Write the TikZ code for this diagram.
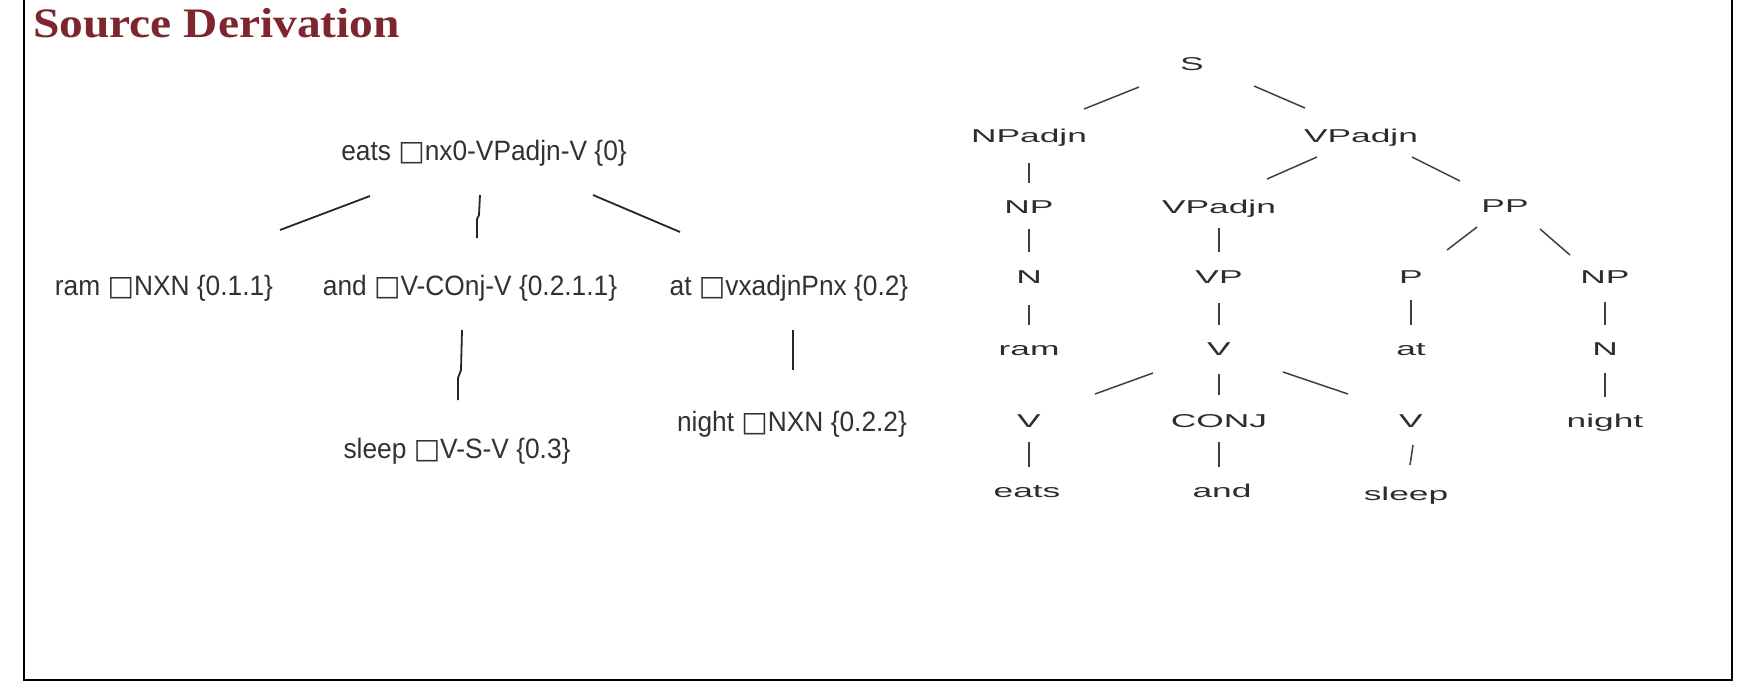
\documentclass[tikz,border=0pt]{standalone}
\usepackage{fontspec}
\setmainfont{Liberation Sans}
\newfontfamily\titlefont[FakeStretch=1.13]{Liberation Serif}
\newfontfamily\leftfont[FakeStretch=0.94]{Liberation Sans}
\newfontfamily\rightfont[FakeStretch=1.9]{Liberation Sans}
\newfontfamily\boxfont{DejaVu Sans}
\usetikzlibrary{calc}
\definecolor{titlered}{RGB}{125,38,45}
\definecolor{ltext}{RGB}{50,50,50}
\definecolor{rtext}{RGB}{45,45,45}
\newcommand{\bx}{{\boxfont\char"25A1}}
\begin{document}
\begin{tikzpicture}[x=1pt,y=-1pt,
  lnode/.style={inner sep=0pt, anchor=base, text=ltext, font=\leftfont\fontsize{28pt}{28pt}\selectfont},
  rnode/.style={inner sep=0pt, anchor=base, text=rtext, font=\rightfont\fontsize{18.6pt}{18.6pt}\selectfont},
  ledge/.style={draw=black!85, line width=1.8pt},
  redge/.style={draw=black!75, line width=1.5pt},
  frame/.style={draw=black, line width=2.2pt}]
\useasboundingbox (0,0) rectangle (1747,697);
\fill[white] (0,0) rectangle (1747,697);
\draw[frame] (24,0) -- (24,680) -- (1732,680) -- (1732,0);
\node[inner sep=0pt, anchor=base west, text=titlered, font=\titlefont\bfseries\fontsize{42pt}{42pt}\selectfont] (title) at (33,37) {Source Derivation};
% left derivation tree
\node[lnode] (eats) at (484,160) {eats \bx nx0-VPadjn-V \{0\}};
\node[lnode] (ram) at (164,295) {ram \bx NXN \{0.1.1\}};
\node[lnode] (and) at (470,295) {and \bx V-COnj-V \{0.2.1.1\}};
\node[lnode] (at) at (789,295) {at \bx vxadjnPnx \{0.2\}};
\node[lnode] (sleep) at (457,458) {sleep \bx V-S-V \{0.3\}};
\node[lnode] (night) at (792,431) {night \bx NXN \{0.2.2\}};
\draw[ledge] ($(eats.base)+(-114,36)$) -- ($(ram.base)+(116,-65)$);
\draw[ledge] ($(eats.base)+(-4,35)$) -- ++(-1,20) -- ++(-2,4) -- ($(and.base)+(7,-57)$);
\draw[ledge] ($(eats.base)+(109,35)$) -- ($(at.base)+(-109,-63)$);
\draw[ledge] ($(and.base)+(-8,35)$) -- ++(-1,40) -- ++(-3,8) -- ($(sleep.base)+(1,-58)$);
\draw[ledge] ($(at.base)+(4,35)$) -- ($(night.base)+(1,-61)$);
% right phrase structure tree
\node[rnode] (S) at (1192,70) {S};
\node[rnode] (NPadjn) at (1029,142) {NPadjn};
\node[rnode] (VPadjn) at (1361,142) {VPadjn};
\node[rnode] (NPb) at (1029,213) {NP};
\node[rnode] (VPadjnb) at (1219,213) {VPadjn};
\node[rnode] (PP) at (1505,212) {PP};
\node[rnode] (Nr) at (1029,283) {N};
\node[rnode] (VP) at (1219,283) {VP};
\node[rnode] (P) at (1411,283) {P};
\node[rnode] (NPc) at (1605,283) {NP};
\node[rnode] (ramr) at (1029,355) {ram};
\node[rnode] (V) at (1219,355) {V};
\node[rnode] (atr) at (1411,355) {at};
\node[rnode] (Nc) at (1605,355) {N};
\node[rnode] (Vl) at (1029,427) {V};
\node[rnode] (CONJ) at (1219,427) {CONJ};
\node[rnode] (Vr) at (1411,427) {V};
\node[rnode] (nightr) at (1605,427) {night};
\node[rnode] (eatsr) at (1027,497) {eats};
\node[rnode] (andr) at (1222,497) {and};
\node[rnode] (sleepr) at (1406,500) {sleep};
\draw[redge] ($(S.base)+(-53,17)$) -- ($(NPadjn.base)+(55,-33)$);
\draw[redge] ($(S.base)+(62,16)$) -- ($(VPadjn.base)+(-56,-34)$);
\draw[redge] ($(NPadjn.base)+(0,21)$) -- ($(NPb.base)+(0,-30)$);
\draw[redge] ($(NPb.base)+(0,16)$) -- ($(Nr.base)+(0,-31)$);
\draw[redge] ($(Nr.base)+(0,22)$) -- ($(ramr.base)+(0,-30)$);
\draw[redge] ($(VPadjn.base)+(-44,15)$) -- ($(VPadjnb.base)+(48,-34)$);
\draw[redge] ($(VPadjn.base)+(51,15)$) -- ($(PP.base)+(-45,-31)$);
\draw[redge] ($(VPadjnb.base)+(0,15)$) -- ($(VP.base)+(0,-31)$);
\draw[redge] ($(VP.base)+(0,20)$) -- ($(V.base)+(0,-30)$);
\draw[redge] ($(PP.base)+(-28,15)$) -- ($(P.base)+(36,-33)$);
\draw[redge] ($(PP.base)+(35,17)$) -- ($(NPc.base)+(-35,-28)$);
\draw[redge] ($(P.base)+(0,17)$) -- ($(atr.base)+(0,-30)$);
\draw[redge] ($(NPc.base)+(0,19)$) -- ($(Nc.base)+(0,-30)$);
\draw[redge] ($(Nc.base)+(0,18)$) -- ($(nightr.base)+(0,-30)$);
\draw[redge] ($(V.base)+(-66,18)$) -- ($(Vl.base)+(66,-33)$);
\draw[redge] ($(V.base)+(0,19)$) -- ($(CONJ.base)+(0,-32)$);
\draw[redge] ($(V.base)+(64,17)$) -- ($(Vr.base)+(-63,-33)$);
\draw[redge] ($(Vl.base)+(0,15)$) -- ($(eatsr.base)+(2,-30)$);
\draw[redge] ($(CONJ.base)+(0,15)$) -- ($(andr.base)+(-3,-30)$);
\draw[redge] ($(Vr.base)+(2,18)$) -- ($(sleepr.base)+(4,-35)$);
\end{tikzpicture}
\end{document}
